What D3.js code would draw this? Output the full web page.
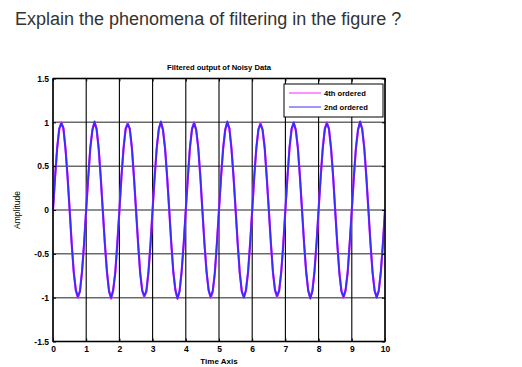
<!DOCTYPE html>
<html><head><meta charset="utf-8">
<script src="https://cdn.jsdelivr.net/npm/d3@7"></script>
<style>
body{margin:0;background:#fff;}
svg{display:block;font-family:"Liberation Sans",Arial,Helvetica,sans-serif;}
</style></head>
<body>
<script>
// ---- data ----
const timeStep = 0.0625; // sample spacing in seconds
const order4 = [ // magenta "4th ordered"
 0.00,0.38,0.71,0.92,1.00,0.93,0.71,0.38,0.01,-0.38,-0.71,-0.92,-1.00,-0.92,-0.70,-0.38,
 0.01,0.38,0.71,0.92,1.00,0.93,0.70,0.38,0.00,-0.38,-0.71,-0.92,-1.01,-0.92,-0.71,-0.38,
 0.00,0.38,0.71,0.93,0.99,0.92,0.71,0.38,0.01,-0.38,-0.71,-0.92,-0.99,-0.93,-0.71,-0.38,
 0.01,0.38,0.71,0.92,1.00,0.92,0.71,0.38,0.00,-0.38,-0.71,-0.92,-1.01,-0.92,-0.70,-0.38,
 0.00,0.38,0.71,0.93,1.00,0.91,0.71,0.38,0.00,-0.38,-0.71,-0.91,-1.00,-0.93,-0.71,-0.38,
 0.01,0.38,0.71,0.92,1.00,0.93,0.71,0.38,0.01,-0.38,-0.71,-0.93,-0.99,-0.92,-0.71,-0.38,
 0.00,0.38,0.71,0.92,0.99,0.91,0.71,0.38,0.00,-0.38,-0.71,-0.92,-0.99,-0.92,-0.71,-0.38,
 0.01,0.38,0.71,0.92,0.99,0.92,0.71,0.38,0.01,-0.38,-0.71,-0.92,-1.00,-0.92,-0.70,-0.38,
 0.00,0.38,0.71,0.93,1.00,0.92,0.71,0.38,0.00,-0.38,-0.71,-0.92,-1.00,-0.92,-0.71,-0.38,
 0.00,0.38,0.71,0.92,1.00,0.93,0.71,0.38,0.00,-0.38,-0.71,-0.92,-0.99,-0.92,-0.71,-0.38,
 0.00];
const order2 = [ // blue "2nd ordered"
 0.00,0.37,0.70,0.93,0.99,0.94,0.70,0.39,0.01,-0.38,-0.71,-0.91,-0.99,-0.93,-0.70,-0.37,
 0.01,0.38,0.72,0.91,1.01,0.92,0.71,0.37,-0.01,-0.39,-0.70,-0.93,-1.00,-0.91,-0.72,-0.38,
-0.01,0.39,0.70,0.92,0.98,0.93,0.72,0.38,0.00,-0.37,-0.72,-0.92,-0.98,-0.92,-0.71,-0.39,
 0.00,0.38,0.71,0.93,1.01,0.91,0.70,0.38,0.01,-0.38,-0.71,-0.91,-1.01,-0.93,-0.70,-0.38,
 0.01,0.37,0.72,0.92,0.99,0.92,0.71,0.39,-0.01,-0.39,-0.70,-0.92,-0.99,-0.92,-0.72,-0.37,
 0.00,0.38,0.70,0.91,1.01,0.93,0.70,0.38,0.00,-0.38,-0.72,-0.93,-1.00,-0.91,-0.71,-0.38,
-0.01,0.39,0.71,0.92,0.98,0.92,0.72,0.37,0.01,-0.37,-0.71,-0.91,-0.98,-0.92,-0.70,-0.39,
 0.00,0.38,0.72,0.93,1.00,0.91,0.71,0.38,0.00,-0.38,-0.70,-0.92,-1.01,-0.93,-0.71,-0.38,
 0.01,0.37,0.70,0.92,0.99,0.93,0.70,0.39,-0.01,-0.39,-0.72,-0.93,-0.99,-0.91,-0.72,-0.37,
 0.00,0.38,0.71,0.91,1.01,0.92,0.71,0.38,0.01,-0.38,-0.71,-0.92,-1.00,-0.92,-0.70,-0.38,
 0.00];
const xTicks = [0,1,2,3,4,5,6,7,8,9,10];
const yTicks = [-1.5,-1,-0.5,0,0.5,1,1.5];
const seriesNames = ["4th ordered","2nd ordered"];
const seriesColors = ["#ff22ff","#3a2cff"];
const headerText = "Explain the phenomena of filtering in the figure ?";
const chartTitle = "Filtered output of Noisy Data";
const xLabel = "Time Axis";
const yLabel = "Amplitude";

// ---- layout ----
const W = 522, H = 367;
const L = 53, R = 385, T = 78.5, B = 341.5;

const svg = d3.select("body").append("svg").attr("width",W).attr("height",H);

svg.append("text").attr("x",15).attr("y",25).attr("fill","#333")
  .style("font-size","18px").style("font-family","'Liberation Sans',Helvetica,Arial,sans-serif")
  .text(headerText);

const x = d3.scaleLinear().domain([0,10]).range([L,R]);
const y = d3.scaleLinear().domain([-1.5,1.5]).range([B,T]);

// grid
const g = svg.append("g");
g.selectAll("line.h").data(yTicks).join("line")
  .attr("x1",L).attr("x2",R).attr("y1",d=>y(d)).attr("y2",d=>y(d))
  .attr("stroke","#6a6a6a").attr("stroke-width",1.5);
g.selectAll("line.v").data(xTicks).join("line")
  .attr("x1",d=>x(d)).attr("x2",d=>x(d)).attr("y1",T).attr("y2",B)
  .attr("stroke","#000").attr("stroke-width",1.1);

// series
const lineGen = d3.line().x((d,i)=>x(i*timeStep)).y(d=>y(d));
[order4, order2].forEach((s,k)=>{
  svg.append("path").datum(s).attr("d",lineGen)
    .attr("fill","none").attr("stroke",seriesColors[k])
    .attr("stroke-width",k===0?2.2:1.8).attr("stroke-linejoin","round");
});

// axes box
svg.append("rect").attr("x",L).attr("y",T).attr("width",R-L).attr("height",B-T)
  .attr("fill","none").attr("stroke","#000").attr("stroke-width",1.3);

// axes with inward ticks
const xAxis = d3.axisBottom(x).tickValues(xTicks).tickSize(-3).tickPadding(4).tickFormat(d3.format("d"));
const yAxis = d3.axisLeft(y).tickValues(yTicks).tickSize(-3).tickPadding(4).tickFormat(d=>String(d));
const xa = svg.append("g").attr("transform",`translate(0,${B})`).call(xAxis);
const ya = svg.append("g").attr("transform",`translate(${L},0)`).call(yAxis);
[xa,ya].forEach(a=>{
  a.select(".domain").remove();
  a.selectAll("text").style("font-size","8.5px").style("font-weight","bold")
   .attr("fill","#000").style("font-family","'Liberation Sans',Arial,sans-serif");
});
// top/right ticks
svg.append("g").attr("transform",`translate(0,${T})`).call(d3.axisTop(x).tickValues(xTicks).tickSize(-3).tickFormat(""))
  .select(".domain").remove();
svg.append("g").attr("transform",`translate(${R},0)`).call(d3.axisRight(y).tickValues(yTicks).tickSize(-3).tickFormat(""))
  .select(".domain").remove();

// titles
svg.append("text").attr("x",(L+R)/2).attr("y",70).attr("text-anchor","middle")
  .style("font-size","7.6px").style("font-weight","bold").text(chartTitle);
svg.append("text").attr("x",(L+R)/2).attr("y",364).attr("text-anchor","middle")
  .style("font-size","8px").style("font-weight","bold").text(xLabel);
svg.append("text").attr("transform",`translate(20,${(T+B)/2}) rotate(-90)`).attr("text-anchor","middle")
  .style("font-size","8.5px").text(yLabel);

// legend
const lg = svg.append("g");
lg.append("rect").attr("x",284).attr("y",84).attr("width",99).attr("height",33)
  .attr("fill","#fff").attr("stroke","#000").attr("stroke-width",1);
seriesNames.forEach((n,i)=>{
  const yy = 93 + i*14;
  lg.append("line").attr("x1",289).attr("x2",321).attr("y1",yy).attr("y2",yy)
    .attr("stroke",seriesColors[i]).attr("stroke-width",1);
  lg.append("text").attr("x",324).attr("y",yy+3).style("font-size","7.6px")
    .style("font-weight","bold").text(n);
});
</script>
</body></html>
